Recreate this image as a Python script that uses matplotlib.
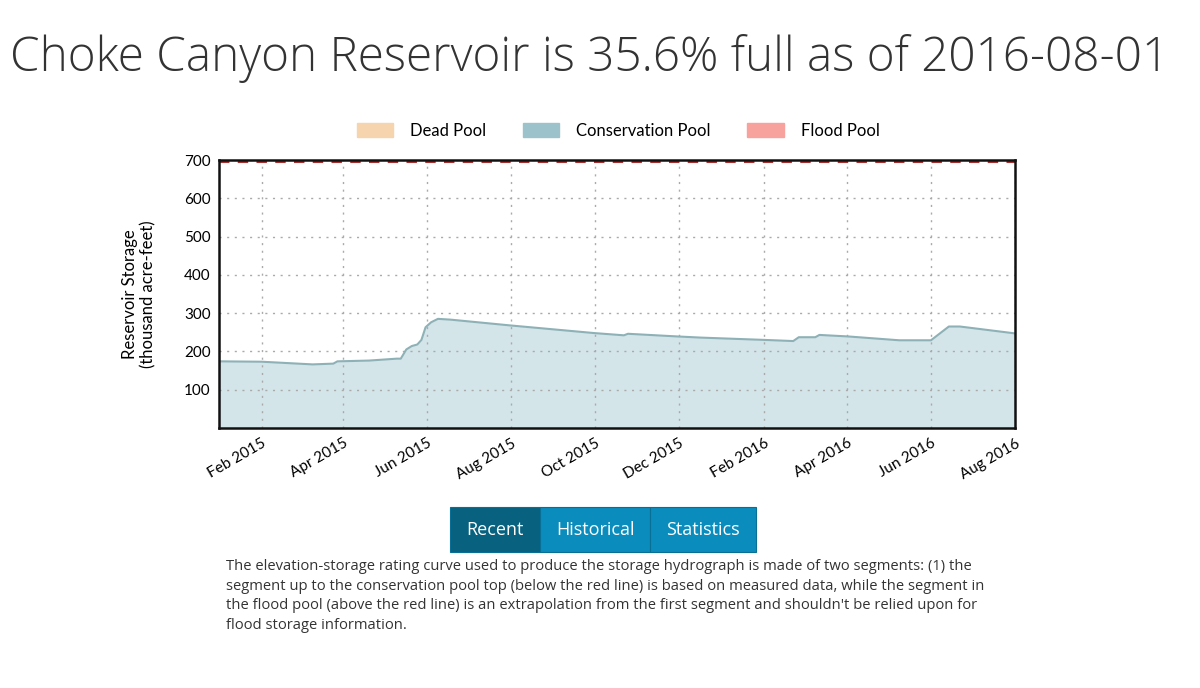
import matplotlib.pyplot as plt
import matplotlib.dates as mdates
from matplotlib.patches import Patch, Rectangle
import numpy as np
import pandas as pd

# storage readings (thousand acre-feet)
dates = pd.to_datetime([
    '2015-01-01', '2015-02-01', '2015-03-10', '2015-03-25', '2015-03-28',
    '2015-04-20', '2015-05-10', '2015-05-13', '2015-05-17', '2015-05-21',
    '2015-05-25', '2015-05-28', '2015-05-31', '2015-06-04', '2015-06-09',
    '2015-06-18', '2015-07-31', '2015-09-30', '2015-10-22', '2015-10-25',
    '2015-11-30', '2015-12-17', '2016-02-01', '2016-02-22', '2016-02-26',
    '2016-03-09', '2016-03-12', '2016-04-02', '2016-05-09', '2016-06-01',
    '2016-06-14', '2016-06-22', '2016-08-01'])
storage = [174, 173, 166, 168, 174,
           176, 181, 181, 205, 214,
           218, 230, 263, 276, 285,
           283, 268, 248, 242, 246,
           239, 236, 230, 227, 237,
           237, 243, 239, 229, 229,
           265, 265, 247]
conservation_top = 695

title = 'Choke Canyon Reservoir is 35.6% full as of 2016-08-01'
legend_labels = ['Dead Pool', 'Conservation Pool', 'Flood Pool']
legend_colors = ['#f5d4ae', '#9cc3cc', '#f7a29c']
tabs = ['Recent', 'Historical', 'Statistics']
note = ("The elevation-storage rating curve used to produce the storage hydrograph is made of two segments: (1) the\n"
        "segment up to the conservation pool top (below the red line) is based on measured data, while the segment in\n"
        "the flood pool (above the red line) is an extrapolation from the first segment and shouldn't be relied upon for\n"
        "flood storage information.")

fig = plt.figure(figsize=(12, 6.88), dpi=100)
fig.text(0.008, 0.915, title, fontsize=34.3, family='Open Sans', weight='light',
         color='#333333', va='center', ha='left')

ax = fig.add_axes([0.1825, 0.378, 0.6633, 0.3894])
ax.fill_between(dates, 0, storage, color='#d4e5ea', lw=0)
ax.plot(dates, storage, color='#8db1b6', lw=1.5)
ax.axhline(conservation_top, color='#a83232', lw=1.5, ls=(0, (5, 4)))

ax.set_xlim(pd.Timestamp('2015-01-01'), pd.Timestamp('2016-08-01'))
ax.set_ylim(0, 700)
ax.set_yticks([100, 200, 300, 400, 500, 600, 700])
ax.xaxis.set_major_locator(mdates.MonthLocator(bymonth=[2, 4, 6, 8, 10, 12]))
ax.xaxis.set_major_formatter(mdates.DateFormatter('%b %Y'))
ax.grid(True, color='#aaaaaa', ls=(0, (1.5, 4)), lw=1)
ax.tick_params(length=0, labelsize=11, pad=6)
for lab in ax.get_xticklabels():
    lab.set_rotation(30)
    lab.set_ha('right')
    lab.set_rotation_mode('anchor')
    lab.set_family('Lato')
for lab in ax.get_yticklabels():
    lab.set_family('Lato')
for s in ax.spines.values():
    s.set_linewidth(1.8)
    s.set_color('#111111')
ax.set_ylabel('Reservoir Storage\n(thousand acre-feet)', fontsize=12, family='Lato',
              labelpad=20, linespacing=1.2)

handles = [Patch(color=c) for c in legend_colors]
fig.legend(handles, legend_labels, loc='center', bbox_to_anchor=(0.515, 0.81), ncol=3,
           frameon=False, prop={'family': 'Lato', 'size': 12}, handlelength=2.2,
           handleheight=0.9, columnspacing=2.2, handletextpad=1.0)

# tab buttons
tab_x = [450, 540, 650]
tab_w = [90, 110, 106]
tab_col = ['#07617f', '#0a8cbd', '#0a8cbd']
for t, x0, w, c in zip(tabs, tab_x, tab_w, tab_col):
    fig.patches.append(Rectangle((x0 / 1200, 1 - 552 / 688), w / 1200, 45 / 688,
                                 transform=fig.transFigure, color=c, ec='#0a6f94', lw=0.8))
    fig.text((x0 + w / 2) / 1200, 1 - 530 / 688, t, color='white', fontsize=13,
             family='Open Sans', ha='center', va='center')

fig.text(226 / 1200, 1 - 559 / 688, note, fontsize=10.6, family='Open Sans',
         color='#333333', va='top', ha='left', linespacing=1.42)

fig.savefig('out.png', dpi=100)
